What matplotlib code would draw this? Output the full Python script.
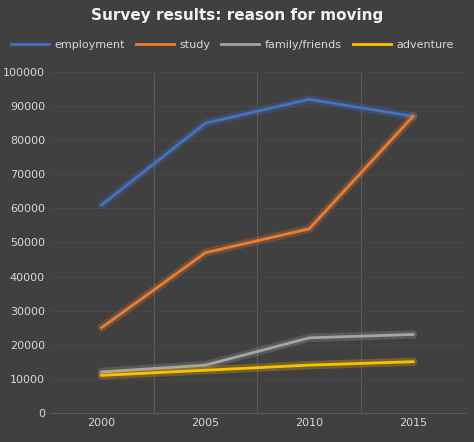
import matplotlib.pyplot as plt

years = ["2000", "2005", "2010", "2015"]
employment = [61000, 85000, 92000, 87000]
study = [25000, 47000, 54000, 87000]
family_friends = [12000, 14000, 22000, 23000]
adventure = [11000, 12500, 14000, 15000]

series = [
    ("employment", employment, "#4472c4"),
    ("study", study, "#ed7d31"),
    ("family/friends", family_friends, "#a5a5a5"),
    ("adventure", adventure, "#ffc000"),
]

bg = "#404040"
fig = plt.figure(figsize=(4.74, 4.42), dpi=100, facecolor=bg)
ax = fig.add_axes([0.105, 0.066, 0.876, 0.771], facecolor=bg)

x = list(range(len(years)))
for name, vals, col in series:
    ax.plot(x, vals, color=col, lw=6, alpha=0.25, solid_capstyle="round")
    ax.plot(x, vals, color=col, lw=2, label=name)

ax.set_xlim(-0.5, len(years) - 0.5)
ax.set_ylim(0, 100000)
ax.set_yticks(range(0, 100001, 10000))
ax.set_xticks(x)
ax.set_xticklabels(years)
ax.set_xticks([i + 0.5 for i in x[:-1]], minor=True)
ax.grid(axis="x", which="minor", color="#5a5a5a", lw=0.8)
ax.grid(axis="y", which="major", color="#4a4a4a", lw=0.6)
ax.tick_params(colors="#d9d9d9", labelsize=8, length=0, which="both")
for s in ax.spines.values():
    s.set_visible(False)
ax.spines["bottom"].set_visible(True)
ax.spines["bottom"].set_color("#5a5a5a")

fig.text(0.5, 0.965, "Survey results: reason for moving", ha="center", va="center",
         color="#f2f2f2", fontsize=11, fontweight="bold")
fig.legend(loc="center", bbox_to_anchor=(0.49, 0.898), ncol=4, frameon=False,
           fontsize=8, labelcolor="#d9d9d9", handlelength=3.4, columnspacing=1.0,
           handletextpad=0.5)
fig.savefig("out.png", facecolor=bg)
